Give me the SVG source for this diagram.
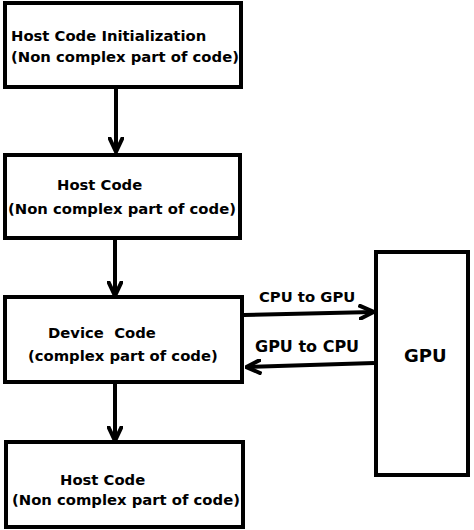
<svg xmlns="http://www.w3.org/2000/svg" width="474" height="530" viewBox="0 0 474 530">
<style>
.box{fill:#fff;stroke:#000;stroke-width:4}
.t{font-family:"DejaVu Sans",sans-serif;font-size:14.8px;font-weight:bold;fill:#000}
.c{stroke:#000;stroke-width:4;fill:none}
</style>
<defs>
<marker id="ah" viewBox="0 0 10 10" refX="9" refY="5" markerWidth="4" markerHeight="4" orient="auto" markerUnits="strokeWidth">
<path d="M0,0.5 L9.5,5 L0,9.5" fill="none" stroke="#000" stroke-width="2.5"/>
</marker>
</defs>
<rect width="474" height="530" fill="#fff"/>
<g id="connectors">
<line class="c" x1="116" y1="88" x2="116" y2="151" marker-end="url(#ah)"/>
<line class="c" x1="115" y1="239" x2="115" y2="295" marker-end="url(#ah)"/>
<line class="c" x1="115" y1="383" x2="115" y2="440" marker-end="url(#ah)"/>
<line class="c" x1="244" y1="315" x2="373" y2="312" marker-end="url(#ah)"/>
<line class="c" x1="374" y1="363" x2="247" y2="367" marker-end="url(#ah)"/>
<text class="t" x="259" y="302">CPU to GPU</text>
<text class="t" x="255" y="352" style="font-size:16px">GPU to CPU</text>
</g>
<g id="n1">
<rect class="box" x="5" y="3" width="236" height="84"/>
<text class="t" x="11" y="41">Host Code Initialization</text>
<text class="t" x="11" y="62">(Non complex part of code)</text>
</g>
<g id="n2">
<rect class="box" x="5" y="155" width="235" height="83"/>
<text class="t" x="57" y="190">Host Code</text>
<text class="t" x="8" y="214">(Non complex part of code)</text>
</g>
<g id="n3">
<rect class="box" x="5" y="297" width="237" height="85"/>
<text class="t" x="48" y="338" xml:space="preserve">Device  Code</text>
<text class="t" x="28" y="361">(complex part of code)</text>
</g>
<g id="n4">
<rect class="box" x="6" y="442" width="237" height="85"/>
<text class="t" x="60" y="485">Host Code</text>
<text class="t" x="12" y="505">(Non complex part of code)</text>
</g>
<g id="gpu">
<rect class="box" x="376" y="252" width="92" height="223"/>
<text class="t" x="404" y="362" style="font-size:18px">GPU</text>
</g>
</svg>
